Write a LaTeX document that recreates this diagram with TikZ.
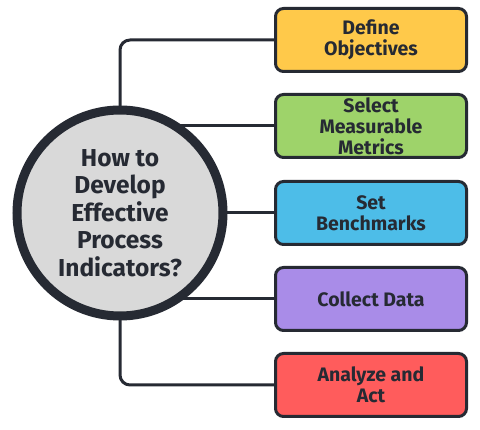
\documentclass[tikz,border=0pt]{standalone}
\usepackage{fontspec}
\usetikzlibrary{backgrounds}
\setmainfont{Fira Sans}[BoldFont={Fira Sans Bold}]
\definecolor{ink}{HTML}{262A33}
\definecolor{cgray}{HTML}{D9D9D9}
\definecolor{cyel}{HTML}{FFC94A}
\definecolor{cgrn}{HTML}{9ED36A}
\definecolor{cblu}{HTML}{4DBDE8}
\definecolor{cpur}{HTML}{A98CE8}
\definecolor{cred}{HTML}{FF5C5C}
\begin{document}
\begin{tikzpicture}[x=1pt,y=-1pt,
  stepbox/.style={draw=ink,line width=3pt,rounded corners=8pt,minimum width=191pt,minimum height=63pt,align=center,font=\fontsize{19.5}{21}\selectfont\bfseries,text=ink,inner sep=0pt},
  conn/.style={draw=ink,line width=3pt,rounded corners=10pt}]
\useasboundingbox (0,0) rectangle (480,430);
\node[circle,draw=ink,line width=9pt,fill=cgray,minimum size=206pt,align=center,font=\fontsize{24.5}{27.5}\selectfont\bfseries,text=ink] (c) at (120,213) {How to\\Develop\\Effective\\Process\\Indicators?};
\node[stepbox,fill=cyel] (b1) at (371,40) {Define\\Objectives};
\node[stepbox,fill=cgrn] (b2) at (371,126) {Select\\Measurable\\Metrics};
\node[stepbox,fill=cblu] (b3) at (371,213) {Set\\Benchmarks};
\node[stepbox,fill=cpur] (b4) at (371,299) {Collect Data};
\node[stepbox,fill=cred] (b5) at (371,385) {Analyze and\\Act};
\begin{scope}[on background layer]
\draw[conn] (c.center) |- (b1.west);
\draw[conn] (b2.west) -- (b2.west -| c.center);
\draw[conn] (b3.west) -- (c.center);
\draw[conn] (b4.west) -- (b4.west -| c.center);
\draw[conn] (c.center) |- (b5.west);
\end{scope}
\end{tikzpicture}
\end{document}
